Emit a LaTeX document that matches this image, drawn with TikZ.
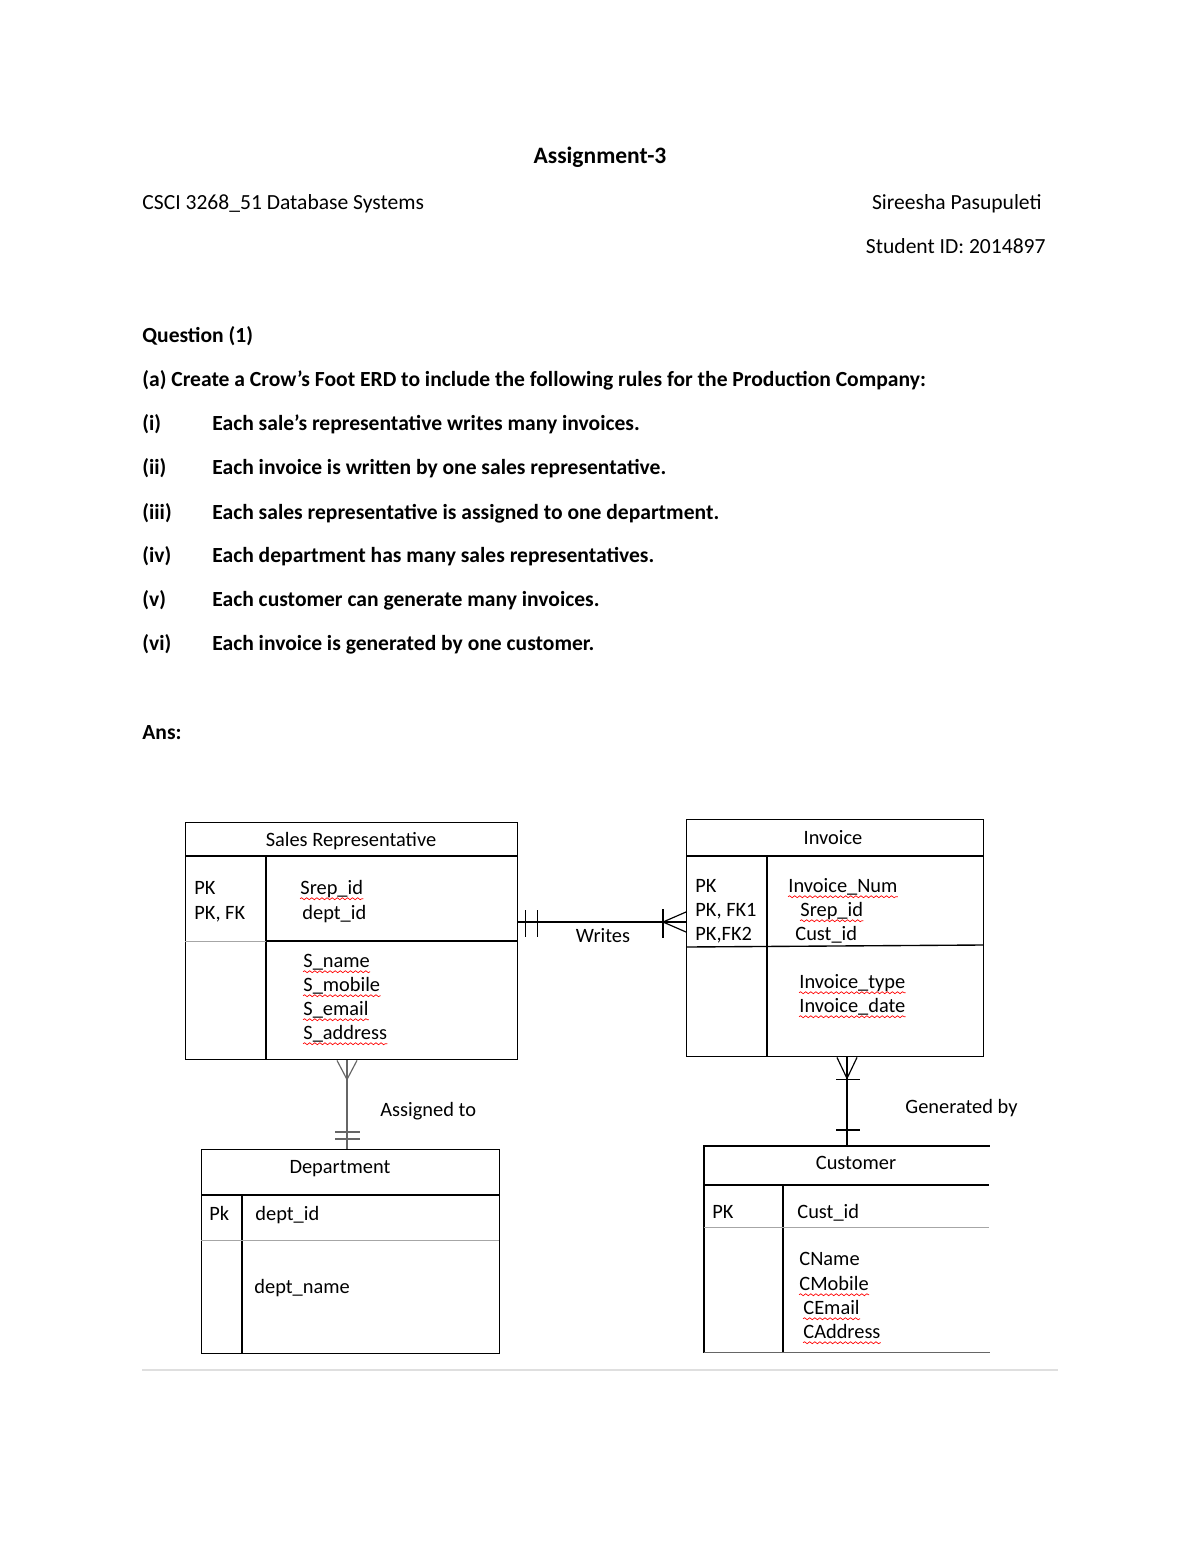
\documentclass[tikz,border=0pt]{standalone}
\usepackage{fontspec}
\setmainfont{Carlito}
\usetikzlibrary{decorations.pathmorphing}

\begin{document}
\begin{tikzpicture}[x=0.51pt, y=-0.51pt,
  body/.style={anchor=base west, inner sep=0pt, font=\fontsize{11}{13}\selectfont},
  bbody/.style={body, font=\fontsize{11}{13}\selectfont\bfseries},
  erd/.style={anchor=base west, inner sep=0pt, font=\fontsize{10.4}{12}\selectfont},
  title/.style={erd, anchor=base},
  entity/.style={draw, line width=0.7pt, inner sep=0pt, anchor=north west},
  rel/.style={line width=0.6pt},
  spell/.style={draw=red, line width=0.35pt, decorate,
    decoration={snake, amplitude=0.5pt, segment length=2.6pt}}
]
\useasboundingbox (0,0) rectangle (1200,1553);

% heading
\node[bbody, anchor=base, font=\fontsize{12}{14}\selectfont\bfseries] (head) at (600,164) {Assignment-3};
\node[body] (course) at (142,210) {CSCI 3268\_51 Database Systems};
\node[body, anchor=base east] (name) at (1042,210) {Sireesha Pasupuleti};
\node[body, anchor=base east] (sid) at (1046,254) {Student ID: 2014897};

% question
\node[bbody] (q) at (142,342) {Question (1)};
\node[bbody] (qa) at (142,386) {(a) Create a Crow’s Foot ERD to include the following rules for the Production Company:};
\node[bbody] (n1) at (142,430) {(i)};
\node[bbody] (r1) at (212,430) {Each sale’s representative writes many invoices.};
\node[bbody] (n2) at (142,474) {(ii)};
\node[bbody] (r2) at (212,474) {Each invoice is written by one sales representative.};
\node[bbody] (n3) at (142,519) {(iii)};
\node[bbody] (r3) at (212,519) {Each sales representative is assigned to one department.};
\node[bbody] (n4) at (142,562) {(iv)};
\node[bbody] (r4) at (212,562) {Each department has many sales representatives.};
\node[bbody] (n5) at (142,606) {(v)};
\node[bbody] (r5) at (212,606) {Each customer can generate many invoices.};
\node[bbody] (n6) at (142,650) {(vi)};
\node[bbody] (r6) at (212,650) {Each invoice is generated by one customer.};
\node[bbody] (ans) at (142,739) {Ans:};

% entities
\node[entity, minimum width=169.3pt, minimum height=120.9pt] (srep) at (185,822) {};
\node[entity, minimum width=151.5pt, minimum height=120.9pt] (inv) at (686,819) {};
\node[entity, minimum width=152pt, minimum height=104pt] (dept) at (201,1149) {};
\node[anchor=north west, inner sep=0pt, minimum width=145.4pt, minimum height=105.1pt] (cust) at (704,1146) {};
\draw[line width=0.7pt] (cust.north east) -- (cust.north west) -- (cust.south west);
\draw[line width=0.5pt, gray!80!black] (cust.south west) -- (cust.south east);

% sales representative
\draw[line width=0.7pt] (185,856) -- (517,856);
\draw[line width=0.7pt] (266,856) -- (266,1059);
\draw[line width=0.5pt, gray!70] (185,941) -- (266,941);
\draw[line width=0.7pt] (266,941) -- (517,941);
\node[title] (srept) at (351,846) {Sales Representative};
\node[erd] (sk1) at (194,894) {PK};
\node[erd] (sk2) at (194,919) {PK, FK};
\node[erd] (sa1) at (300,894) {Srep\_id};
\node[erd] (sa2) at (302,919) {dept\_id};
\node[erd] (sa3) at (303,967) {S\_name};
\node[erd] (sa4) at (303,991) {S\_mobile};
\node[erd] (sa5) at (303,1015) {S\_email};
\node[erd] (sa6) at (303,1039) {S\_address};

% invoice
\draw[line width=0.7pt] (686,856) -- (983,856);
\draw[line width=0.7pt] (767,856) -- (767,1056);
\draw[line width=0.7pt] (686,947) -- (983,945);
\node[title] (invt) at (833,844) {Invoice};
\node[erd] (ik1) at (695,892) {PK};
\node[erd] (ik2) at (695,916) {PK, FK1};
\node[erd] (ik3) at (695,940) {PK,FK2};
\node[erd] (ia1) at (788,892) {Invoice\_Num};
\node[erd] (ia2) at (800,916) {Srep\_id};
\node[erd] (ia3) at (795,940) {Cust\_id};
\node[erd] (ia4) at (799,988) {Invoice\_type};
\node[erd] (ia5) at (799,1012) {Invoice\_date};

% department
\draw[line width=0.7pt] (201,1195) -- (499,1195);
\draw[line width=0.7pt] (242,1195) -- (242,1353);
\draw[line width=0.5pt, gray!70] (201,1240) -- (499,1240);
\node[title] (deptt) at (340,1173) {Department};
\node[erd] (dk1) at (209,1220) {Pk};
\node[erd] (da1) at (255,1220) {dept\_id};
\node[erd] (da2) at (254,1293) {dept\_name};

% customer
\draw[line width=0.7pt] (704,1185) -- (989,1185);
\draw[line width=0.7pt] (783,1185) -- (783,1352);
\draw[line width=0.5pt, gray!70] (704,1227) -- (989,1227);
\node[title] (custt) at (856,1169) {Customer};
\node[erd] (ck1) at (712,1218) {PK};
\node[erd] (ca1) at (797,1218) {Cust\_id};
\node[erd] (ca2) at (799,1265) {CName};
\node[erd] (ca3) at (799,1290) {CMobile};
\node[erd] (ca4) at (803,1314) {CEmail};
\node[erd] (ca5) at (803,1338) {CAddress};

% spelling marks
\foreach \w in {sa1,sa3,sa4,sa5,sa6,ia1,ia2,ia4,ia5,ca3,ca4,ca5}
  \draw[spell] ([yshift=-2.4pt]\w.base west) -- ([yshift=-2.4pt]\w.base east);

% Writes: one to many
\coordinate (wl) at (srep.east |- 0,922);
\coordinate (wr) at (inv.west |- 0,922);
\draw[rel] (wl) -- (wr);
\draw[rel] (wl) ++(7,-12) -- ++(0,27);
\draw[rel] (wl) ++(19,-12) -- ++(0,27);
\draw[rel] (wr) ++(-23,-13) -- ++(0,29);
\draw[rel] (wr) ++(-23,0) -- ++(23,-10);
\draw[rel] (wr) ++(-23,0) -- ++(23,10);
\node[erd, anchor=base] (writes) at (603,942) {Writes};

% Assigned to: many to one
\coordinate (at) at (347,0 |- srep.south);
\coordinate (ab) at (347,0 |- dept.north);
\draw[rel, gray!80!black] (at) -- (ab);
\draw[rel, gray!80!black] (at) ++(-10,0) -- ++(10,19) -- ++(10,-19);
\draw[rel, gray!80!black] (ab) ++(-12,-17) -- ++(25,0);
\draw[rel, gray!80!black] (ab) ++(-12,-10) -- ++(25,0);
\node[erd] (assigned) at (380,1116) {Assigned to};

% Generated by: many to one
\coordinate (gt) at (847,0 |- inv.south);
\coordinate (gb) at (847,0 |- cust.north);
\draw[rel] (gt) -- (gb);
\draw[rel] (gt) ++(-10,0) -- ++(10,21) -- ++(10,-21);
\draw[rel] (gt) ++(-11,22) -- ++(24,0);
\draw[rel] (gb) ++(-11,-16) -- ++(24,0);
\node[erd] (generated) at (905,1113) {Generated by};

% page rule
\draw[gray!25, line width=1.2pt] (142,1370) -- (1058,1370);
\end{tikzpicture}
\end{document}
